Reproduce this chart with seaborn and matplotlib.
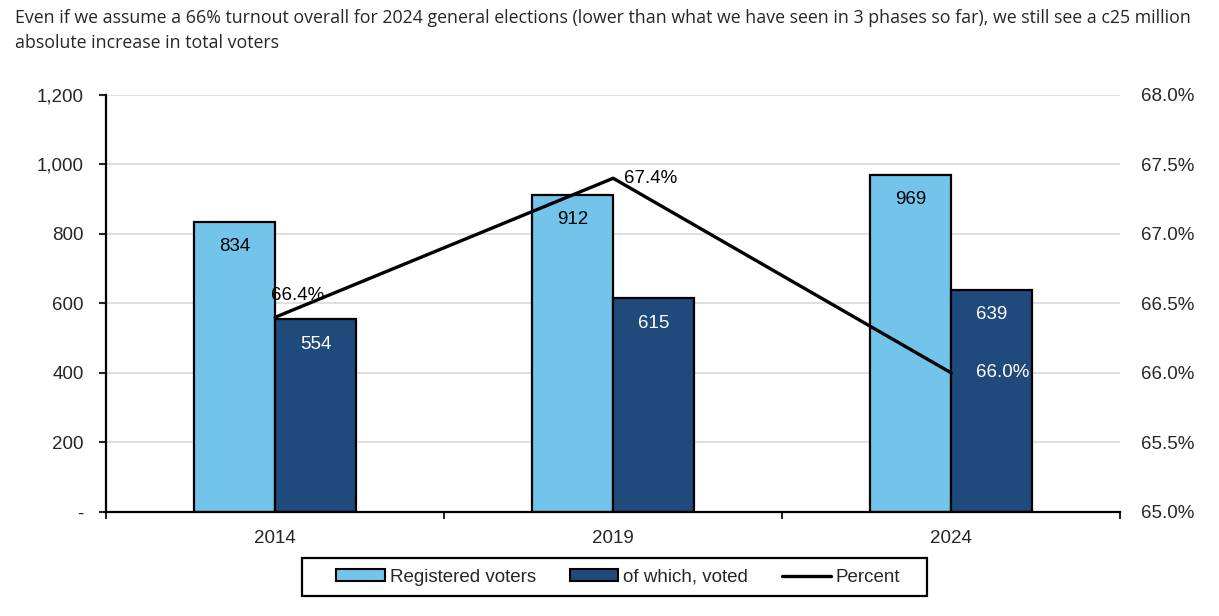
import numpy as np
import pandas as pd
import seaborn as sns
import matplotlib.pyplot as plt
from matplotlib.patches import Patch, Rectangle
from matplotlib.lines import Line2D
from matplotlib.ticker import FuncFormatter, FixedLocator

years = ["2014", "2019", "2024"]
registered = [834, 912, 969]
voted = [554, 615, 639]
turnout = [66.4, 67.4, 66.0]
series = ["Registered voters", "of which, voted"]

title = ("Even if we assume a 66% turnout overall for 2024 general elections (lower than what we have seen in 3 phases so far), we still see a c25 million\n"
         "absolute increase in total voters")

light = "#73c4ea"
dark = "#204a7b"

df = pd.DataFrame({
    "year": years * 2,
    "value": registered + voted,
    "series": [series[0]] * 3 + [series[1]] * 3,
})

sns.set_style("white")
plt.rcParams["font.family"] = ["Liberation Sans", "DejaVu Sans"]
fs = 13.5

fig = plt.figure(figsize=(12.19, 6.16), dpi=100)
ax = fig.add_axes([0.087, 0.169, 0.832, 0.677])

sns.barplot(data=df, x="year", y="value", hue="series", palette=[light, dark],
            saturation=1, width=0.48, edgecolor="black", linewidth=1.6, ax=ax,
            legend=False, zorder=2)

ax.set_ylim(0, 1200)
ax.set_xlim(-0.5, 2.5)
ax.set_yticks(np.arange(0, 1201, 200))
ax.yaxis.set_major_formatter(FuncFormatter(lambda v, p: "-" if v == 0 else f"{v:,.0f}"))
ax.yaxis.grid(True, color="#d9d9d9", linewidth=1.2, zorder=0)
ax.set_axisbelow(True)
ax.set_xlabel("")
ax.set_ylabel("")
ax.tick_params(axis="y", labelsize=fs, length=5, width=1.5, pad=11, direction="out", left=True)
ax.tick_params(axis="x", which="major", labelsize=fs, length=0, pad=13)
ax.xaxis.set_minor_locator(FixedLocator(np.arange(-0.5, 2.6, 1)))
ax.tick_params(axis="x", which="minor", length=5, width=1.5, direction="out", bottom=True)
for s in ["top", "right"]:
    ax.spines[s].set_visible(False)
for s in ["left", "bottom"]:
    ax.spines[s].set_linewidth(1.6)
    ax.spines[s].set_color("black")

for cont, col in zip(ax.containers, ["black", "white"]):
    ax.bar_label(cont, labels=[f"{v:,.0f}" for v in cont.datavalues],
                 padding=-24, color=col, fontsize=fs)

ax2 = ax.twinx()
x = np.arange(len(years))
sns.lineplot(x=x, y=turnout, color="black", linewidth=2.4, ax=ax2)
ax2.set_ylim(65, 68)
ax2.set_yticks(np.arange(65, 68.01, 0.5))
ax2.yaxis.set_major_formatter(FuncFormatter(lambda v, p: f"{v:.1f}%"))
ax2.tick_params(axis="y", length=0, labelsize=fs, pad=15)
ax2.set_xlim(-0.5, 2.5)
for s in ax2.spines.values():
    s.set_visible(False)

offsets = [(-3, 16), (8, 0), (18, 0)]
colors = ["black", "black", "white"]
for xi, t, off, c in zip(x, turnout, offsets, colors):
    ax2.annotate(f"{t:.1f}%", (xi, t), xytext=off, textcoords="offset points",
                 ha="left", va="center", fontsize=fs, color=c)

# legend (frame drawn separately to get the wide side padding)
handles = [Patch(facecolor=light, edgecolor="black", linewidth=1.5),
           Patch(facecolor=dark, edgecolor="black", linewidth=1.5),
           Line2D([], [], color="black", linewidth=2.4)]
fig.legend(handles, series + ["Percent"], loc="center", bbox_to_anchor=(0.507, 0.063),
           ncol=3, frameon=False, fontsize=fs, handlelength=2.6, handleheight=0.55,
           handletextpad=0.25, columnspacing=1.8, borderpad=0, borderaxespad=0)
fig.patches.append(Rectangle((0.2477, 0.0325), 0.5127, 0.0617, transform=fig.transFigure,
                             fill=False, edgecolor="black", linewidth=1.6))

fig.text(0.012, 0.985, title, ha="left", va="top", fontsize=12.8,
         family=["Open Sans", "DejaVu Sans"], linespacing=1.45)

fig.savefig("out.png", dpi=100)
